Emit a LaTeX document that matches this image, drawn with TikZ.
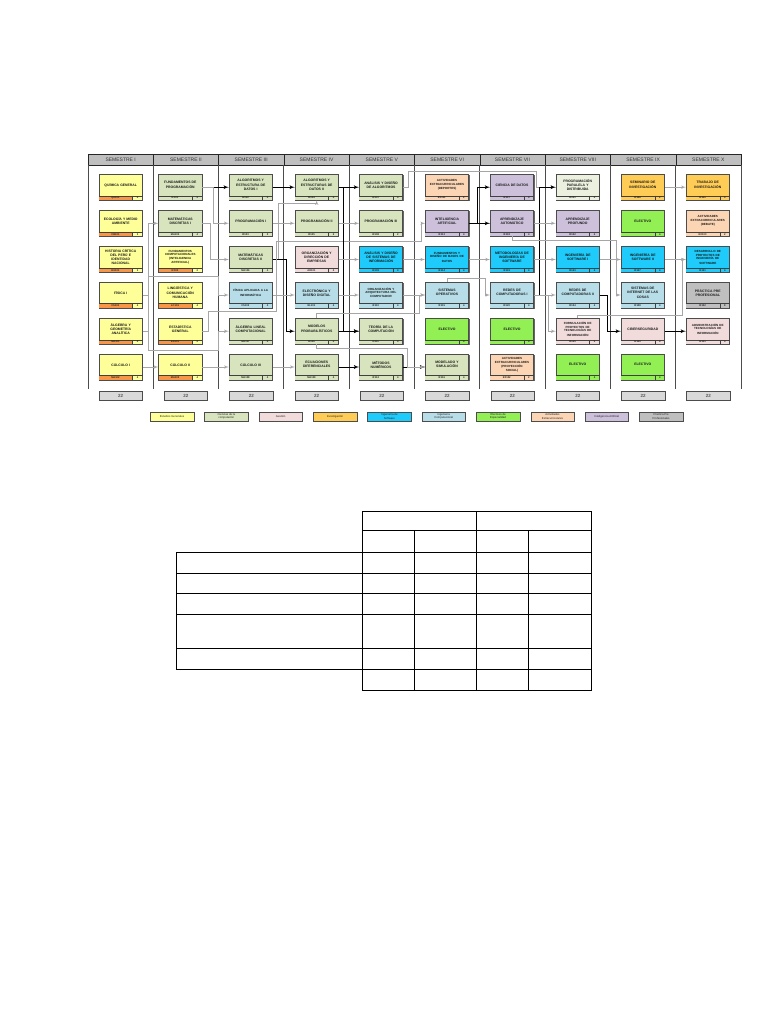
\documentclass[tikz,border=0pt]{standalone}
\usepackage{fontspec}
\setmainfont{Liberation Sans}
\usepackage{tikz}
\usetikzlibrary{arrows}
\usetikzlibrary{calc}
\usetikzlibrary{shadows}
\definecolor{amarillo}{HTML}{FFFF99}
\definecolor{naranja}{HTML}{F79646}
\definecolor{verde}{HTML}{D7E4BD}
\definecolor{verdeclaro}{HTML}{EBF1DE}
\definecolor{rosa}{HTML}{F2DCDB}
\definecolor{oro}{HTML}{FFCC55}
\definecolor{cian}{HTML}{1ECBFA}
\definecolor{celeste}{HTML}{B7DEE8}
\definecolor{lima}{HTML}{92F055}
\definecolor{durazno}{HTML}{FCD5B4}
\definecolor{lila}{HTML}{CCC0DA}
\definecolor{gris}{HTML}{BFBFBF}
\definecolor{grisclaro}{HTML}{D9D9D9}
\newcommand{\chico}{\fontsize{3}{3.7}\selectfont}
\tikzset{sombra/.style = {drop shadow = {shadow xshift = 0.8pt, shadow yshift = -0.8pt,
                                         fill = black!60, opacity = 1}}}
\tikzset{curso/.style = {draw = black!70, line width = 0.5, sombra, inner sep = 0,
                         minimum width = 43.4pt, minimum height = 25.8pt}}
\tikzset{titulo/.style = {inner sep = 0, text width = 42pt, align = center, text = black!90,
                          font = \fontsize{3.4}{4.2}\selectfont\bfseries}}
\tikzset{codigo/.style = {inner sep = 0, text = black!85, font = \fontsize{2.6}{3}\selectfont\bfseries}}
\tikzset{tira/.style = {draw = black!75, line width = 0.4}}
\tikzset{cabecera/.style = {draw = black!85, fill = gris, inner sep = 0, text = black!80,
                            minimum width = 65.3pt, minimum height = 11pt,
                            font = \fontsize{5}{6}\selectfont}}
\tikzset{columna/.style = {draw = black!70, line width = 0.6}}
\tikzset{total/.style = {draw = black!70, fill = grisclaro, sombra, inner sep = 0,
                         minimum width = 43.4pt, minimum height = 9.7pt, text = black!65,
                         font = \fontsize{4.5}{5}\selectfont\bfseries}}
\tikzset{leyenda/.style = {draw = black!70, sombra, inner sep = 0, align = center,
                           minimum width = 43.5pt, minimum height = 9.6pt, text = black!85,
                           font = \fontsize{2.8}{3.3}\selectfont}}
\tikzset{pre/.style = {draw = gray!70, line width = 0.6, ->}}
\tikzset{preb/.style = {draw = black, line width = 0.8, ->}}
\tikzset{tabla/.style = {draw = black, line width = 0.9}}
\newcommand{\curso}[8]{%
  \node [curso, fill = #4] (#1) at (#2, #3) {};
  \fill [#8] ($(#1.south west) + (0.3, -0.3)$) rectangle ($(#1.south east) + (-10, -4.6)$);
  \draw [tira] ($(#1.south west) + (0, -4.6)$) -- ($(#1.south east) + (0, -4.6)$);
  \draw [tira] ($(#1.south east) + (-10, -4.6)$) -- ($(#1.south east) + (-10, 0)$);
  \node [titulo] (#1t) at ($(#1.center) + (0, -2.3)$) {#5};
  \node [codigo] (#1c) at ($(#1.south west) + (16.7, -2.3)$) {#6};
  \node [codigo] (#1k) at ($(#1.south east) + (-5, -2.3)$) {#7};
}

\begin{document}
\begin{tikzpicture}[x = 1pt, y = -1pt, >=latex']
    \fill [white] (0, 0) rectangle (768, 1024);
    \useasboundingbox (0, 0) rectangle (768, 1024);

    \foreach \r [count = \i from 0] in {I, II, III, IV, V, VI, VII, VIII, IX, X}
      \node [cabecera] (sem\i) at (120.65 + 65.3 * \i, 159.5) {SEMESTRE \r};
    \foreach \i in {0, ..., 9}
      \draw [columna] (sem\i.south west) -- ++(0, 224);
    \draw [columna] (sem9.south east) -- ++(0, 224);

    \curso{qui}{120.7}{187.2}{amarillo}{QUÍMICA GENERAL}{QU101}{4}{naranja}
    \curso{eco}{120.7}{223.3}{amarillo}{ECOLOGÍA Y MEDIO\\AMBIENTE}{CB101}{3}{naranja}
    \curso{his}{120.7}{259.5}{amarillo}{HISTORIA CRÍTICA\\DEL PERÚ E\\IDENTIDAD\\NACIONAL}{HU101}{3}{naranja}
    \curso{fis}{120.7}{295}{amarillo}{FÍSICA I}{FS101}{4}{naranja}
    \curso{agm}{120.7}{331.2}{amarillo}{ÁLGEBRA Y\\GEOMETRÍA\\ANALÍTICA}{MA101}{4}{naranja}
    \curso{ca1}{120.7}{367}{amarillo}{CÁLCULO I}{MA102}{4}{naranja}

    \curso{fpr}{180.3}{187.2}{verde}{FUNDAMENTOS DE\\PROGRAMACIÓN}{IF101}{4}{verde}
    \curso{md1}{180.3}{223.3}{verde}{MATEMÁTICAS\\DISCRETAS I}{MA105}{4}{verde}
    \curso{fco}{180.3}{259.5}{amarillo}{\chico FUNDAMENTOS\\COMPUTACIONALES\\(INTELIGENCIA\\ARTIFICIAL)}{IF100}{2}{naranja}
    \curso{lin}{180.3}{295}{amarillo}{LINGÜÍSTICA Y\\COMUNICACIÓN\\HUMANA}{LC101}{4}{naranja}
    \curso{est}{180.3}{331.2}{amarillo}{ESTADÍSTICA\\GENERAL}{ES101}{4}{naranja}
    \curso{ca2}{180.3}{367}{amarillo}{CÁLCULO II}{MA103}{4}{naranja}

    \curso{ae1}{250.7}{187.2}{verde}{ALGORITMOS Y\\ESTRUCTURA DE\\DATOS I}{IF102}{4}{verde}
    \curso{pr1}{250.7}{223.3}{verde}{PROGRAMACIÓN I}{IF103}{2}{verde}
    \curso{md2}{250.7}{259.5}{verde}{MATEMÁTICAS\\DISCRETAS II}{MA106}{4}{verde}
    \curso{fap}{250.7}{295}{celeste}{\chico FÍSICA APLICADA A LA\\INFORMÁTICA}{FS102}{4}{celeste}
    \curso{alc}{250.7}{331.2}{verde}{ÁLGEBRA LINEAL\\COMPUTACIONAL}{MA107}{4}{verde}
    \curso{ca3}{250.7}{367}{verde}{CÁLCULO III}{MA108}{4}{verde}

    \curso{ae2}{316.7}{187.2}{verde}{ALGORITMOS Y\\ESTRUCTURAS DE\\DATOS II}{IF104}{4}{verde}
    \curso{pr2}{316.7}{223.3}{verde}{PROGRAMACIÓN II}{IF105}{2}{verde}
    \curso{ode}{316.7}{259.5}{rosa}{ORGANIZACIÓN Y\\DIRECCIÓN DE\\EMPRESAS}{AD101}{4}{rosa}
    \curso{edd}{316.7}{295}{celeste}{ELECTRÓNICA Y\\DISEÑO DIGITAL}{EL101}{4}{celeste}
    \curso{mpr}{316.7}{331.2}{verde}{MODELOS\\PROBABILÍSTICOS}{IF106}{4}{verde}
    \curso{edi}{316.7}{367}{verde}{ECUACIONES\\DIFERENCIALES}{MA109}{4}{verde}

    \curso{ada}{381}{187.2}{verde}{ANÁLISIS Y DISEÑO\\DE ALGORITMOS}{IF107}{4}{verde}
    \curso{pr3}{381}{223.3}{verde}{PROGRAMACIÓN III}{IF108}{2}{verde}
    \curso{ads}{381}{259.5}{cian}{ANÁLISIS Y DISEÑO\\DE SISTEMAS DE\\INFORMACIÓN}{IF109}{4}{cian}
    \curso{oac}{381}{295}{celeste}{\chico ORGANIZACIÓN Y\\ARQUITECTURA DEL\\COMPUTADOR}{IF110}{4}{celeste}
    \curso{tco}{381}{331.2}{verde}{TEORÍA DE LA\\COMPUTACIÓN}{IF111}{4}{verde}
    \curso{mnu}{381}{367}{verde}{MÉTODOS\\NUMÉRICOS}{IF112}{4}{verde}

    \curso{ac1}{447}{187.2}{durazno}{\chico ACTIVIDADES\\EXTRACURRICULARES\\(DEPORTES)}{EX101}{2}{durazno}
    \curso{ina}{447}{223.3}{lila}{INTELIGENCIA\\ARTIFICIAL}{IF113}{4}{lila}
    \curso{fbd}{447}{259.5}{cian}{\chico FUNDAMENTOS Y\\DISEÑO DE BASES DE\\DATOS}{IF114}{4}{cian}
    \curso{sop}{447}{295}{celeste}{SISTEMAS\\OPERATIVOS}{IF115}{4}{celeste}
    \curso{el1}{447}{331.2}{lima}{ELECTIVO}{}{4}{lima}
    \curso{mys}{447}{367}{verde}{MODELADO Y\\SIMULACIÓN}{IF116}{4}{verde}

    \curso{cda}{512}{187.2}{lila}{CIENCIA DE DATOS}{IF117}{4}{lila}
    \curso{aau}{512}{223.3}{lila}{APRENDIZAJE\\AUTOMÁTICO}{IF118}{4}{lila}
    \curso{mis}{512}{259.5}{cian}{METODOLOGÍAS DE\\INGENIERÍA DE\\SOFTWARE}{IF119}{4}{cian}
    \curso{rc1}{512}{295}{celeste}{REDES DE\\COMPUTADORAS I}{IF120}{4}{celeste}
    \curso{el2}{512}{331.2}{lima}{ELECTIVO}{}{4}{lima}
    \curso{ac2}{512}{367}{durazno}{\chico ACTIVIDADES\\EXTRACURRICULARES\\(PROYECCIÓN\\SOCIAL)}{EX102}{2}{durazno}

    \curso{ppd}{577.7}{187.2}{verdeclaro}{PROGRAMACIÓN\\PARALELA Y\\DISTRIBUIDA}{IF121}{4}{verdeclaro}
    \curso{apr}{577.7}{223.3}{lila}{APRENDIZAJE\\PROFUNDO}{IF122}{4}{lila}
    \curso{is1}{577.7}{259.5}{cian}{INGENIERÍA DE\\SOFTWARE I}{IF123}{4}{cian}
    \curso{rc2}{577.7}{295}{celeste}{REDES DE\\COMPUTADORAS II}{IF124}{4}{celeste}
    \curso{fpt}{577.7}{331.2}{rosa}{\chico FORMULACIÓN DE\\PROYECTOS DE\\TECNOLOGÍAS DE\\INFORMACIÓN}{IF125}{2}{rosa}
    \curso{el3}{577.7}{367}{lima}{ELECTIVO}{}{4}{lima}

    \curso{sin}{642.8}{187.2}{oro}{SEMINARIO DE\\INVESTIGACIÓN}{IF126}{2}{oro}
    \curso{el4}{642.8}{223.3}{lima}{ELECTIVO}{}{4}{lima}
    \curso{is2}{642.8}{259.5}{cian}{INGENIERÍA DE\\SOFTWARE II}{IF127}{4}{cian}
    \curso{iot}{642.8}{295}{celeste}{SISTEMAS DE\\INTERNET DE LAS\\COSAS}{IF128}{4}{celeste}
    \curso{cib}{642.8}{331.2}{rosa}{CIBERSEGURIDAD}{IF129}{4}{rosa}
    \curso{el5}{642.8}{367}{lima}{ELECTIVO}{}{4}{lima}

    \curso{tin}{707.8}{187.2}{oro}{TRABAJO DE\\INVESTIGACIÓN}{IF130}{4}{oro}
    \curso{ac3}{707.8}{223.3}{durazno}{\chico ACTIVIDADES\\EXTRACURRICULARES\\(DEBATE)}{EX103}{2}{durazno}
    \curso{dps}{707.8}{259.5}{cian}{\chico DESARROLLO DE\\PROYECTOS DE\\INGENIERÍA DE\\SOFTWARE}{IF131}{4}{cian}
    \curso{ppp}{707.8}{295}{gris}{PRÁCTICA PRE\\PROFESIONAL}{IF132}{8}{gris}
    \curso{ati}{707.8}{331.2}{rosa}{\chico ADMINISTRACIÓN DE\\TECNOLOGÍAS DE\\INFORMACIÓN}{IF133}{4}{rosa}

    \draw [preb] (fpr.east) -- (ae1.west);
    \draw [pre] (fpr.east) -- ++(11, 0) |- (pr1.west);
    \draw [pre] (md1.east) -- ++(8, 0) |- (md2.west);
    \draw [pre] (agm.east) -- ++(6, 0) |- (md1.west);
    \draw [pre] (fis.east) -- ++(6, 0) -- ++(0, -18.3) -| ($(fap.west) + (-10.7, 0)$) -- (fap.west);
    \draw [pre] (agm.east) -- ++(6, 0) -- ++(0, 18.6) -| ($(alc.west) + (-10.7, 0)$) -- (alc.west);
    \draw [pre] (ca1.east) -- (ca2.west);
    \draw [pre] (ca2.east) -- (ca3.west);
    \draw [pre] (ca3.east) -- (edi.west);
    \draw [pre] (md2.east) -- ++(5.6, 0) |- ($(ae2.south) + (0, 3.2)$) -- (ae2.south);
    \draw [preb] (md2.east) -- ++(14, 0) |- (mpr.west);
    \draw [pre] (fap.east) -- (edd.west);
    \draw [pre] (est.east) -- ++(6, 0) |- (276.7, 311.7) |- (421.7, 241) |- (ina.west);
    \draw [preb] (ae1.east) -- (ae2.west);
    \draw [pre] (pr1.east) -- (pr2.west);
    \draw [preb] (ae2.east) -- (ada.west);
    \draw [preb] (ae2.east) -- ++(4.6, 0) |- (tco.west);
    \draw [preb] (mpr.east) -- (tco.west);
    \draw [pre] (pr2.east) -- (pr3.west);
    \draw [pre] (ode.east) -- (ads.west);
    \draw [pre] (edd.east) -- (oac.west);
    \draw [preb] (edi.east) -- (mnu.west);
    \draw [preb] (mnu.east) -- (mys.west);
    \draw [pre] (mpr.south) -- ++(0, 4.3) -| ($(mys.west) + (-17.4, 0)$) -- (mys.west);
    \draw [pre] (mpr.north) -- ++(0, -4.8) -| ($(sop.west) + (-5.7, 0)$) -- (sop.west);
    \draw [pre] (ads.east) -- (fbd.west);
    \draw [pre] (oac.east) -- (sop.west);
    \draw [pre] (fbd.east) -- (mis.west);
    \draw [pre] (sop.north) -- ++(0, -3.5) -| ($(rc1.west) + (-4.3, 0)$) -- (rc1.west);
    \draw [preb] (ina.east) -- (aau.west);
    \draw [preb] (ina.east) -- ++(8, 0) |- (cda.west);
    \draw [pre] (ada.east) -- ++(5, 0) |- ($(ppd.west) + (-19, -15.5)$) |- (ppd.west);
    \draw [preb] (rc1.east) -- ++(5.5, 0) |- (ppd.west);
    \draw [pre] (aau.east) -- (apr.west);
    \draw [pre] (mis.east) -- (is1.west);
    \draw [pre] (is1.east) -- (is2.west);
    \draw [pre] (is2.east) -- (dps.west);
    \draw [pre] (rc1.east) -- (rc2.west);
    \draw [pre] (rc1.east) -- ++(14, 0) |- (fpt.west);
    \draw [pre] (aau.south) -- ++(0, 4) -| ($(iot.west) + (-5, 0)$) -- (iot.west);
    \draw [preb] (rc2.east) -- ++(7.5, 0) |- (cib.west);
    \draw [preb] (cib.east) -- (ati.west);
    \draw [pre] (fpt.north) -- ++(0, -3) -| ($(dps.west) + (-4, 0)$) -- (dps.west);
    \draw [pre] (sin.east) -- (tin.west);

    \foreach \i in {0, ..., 9}
      \node [total] (tot\i) at (120.65 + 65.3 * \i, 395.8) {22};

    \foreach \t/\c [count = \i from 0] in {Estudios Generales/amarillo,
        {Ciencias de la\\computación}/verde, Gestión/rosa, Investigación/oro,
        {Ingeniería de\\Software}/cian, {Ingeniería\\Computacional}/celeste,
        {Electivos de\\Especialidad}/lima, {Actividades\\Extracurriculares}/durazno,
        Inteligencia Artificial/lila, {Práctica Pre\\Profesionales}/gris}
      \node [leyenda, fill = \c] (ley\i) at (172 + 54.35 * \i, 416.5) {\t};

    \draw [tabla] (362.3, 511) rectangle (591.7, 530.7);
    \draw [tabla] (476, 511) -- (476, 530.7);
    \draw [tabla] (362.3, 530.7) rectangle (591.7, 690.7);
    \draw [tabla] (176.7, 552.7) rectangle (591.7, 669.3);
    \foreach \y in {573.3, 593.3, 614, 648.3}
      \draw [tabla] (176.7, \y) -- (591.7, \y);
    \foreach \x in {362.3, 414.3, 476, 528.7}
      \draw [tabla] (\x, 530.7) -- (\x, 690.7);
  \end{tikzpicture}
\end{document}
